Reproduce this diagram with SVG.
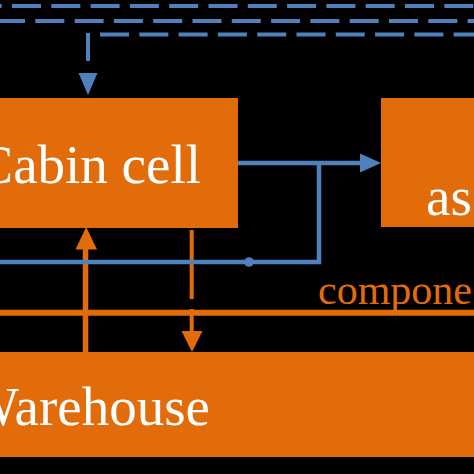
<svg xmlns="http://www.w3.org/2000/svg" width="474" height="474" viewBox="0 0 474 474">
<style>
.box{fill:#E36C0A}
.lbl{font-family:"Liberation Serif","Times New Roman",serif;font-size:55px;fill:#FFFFFF}
.blue{stroke:#4F81BD;fill:none}
.bluef{fill:#4F81BD}
.org{stroke:#E36C0A;fill:none}
.orgf{fill:#E36C0A}
.dash{stroke-dasharray:29 10.3;stroke-width:4}
</style>
<rect x="0" y="0" width="474" height="474" fill="#000000"/>
<g id="cabin-cell">
<rect class="box" x="-10" y="98" width="248" height="130"/>
<text class="lbl" x="201" y="183" text-anchor="end">Cabin cell</text>
</g>
<g id="assembly">
<rect class="box" x="381" y="98" width="103" height="129"/>
<text class="lbl" x="426" y="215">as</text>
</g>
<g id="warehouse">
<rect class="box" x="-10" y="352" width="494" height="105"/>
<text class="lbl" x="210" y="425" text-anchor="end">Warehouse</text>
</g>
<g id="connectors">
<!-- dashed blue lines -->
<line class="blue dash" x1="0" y1="6" x2="474" y2="6" stroke-dashoffset="27.3"/>
<line class="blue dash" x1="0" y1="21" x2="474" y2="21" stroke-dashoffset="4"/>
<line class="blue dash" x1="100" y1="34.5" x2="474" y2="34.5"/>
<line class="blue" stroke-width="4" x1="88" y1="33" x2="88" y2="61"/>
<polygon class="bluef" points="78.5,73 97.5,73 88,95"/>
<!-- orange connectors -->
<line class="org" stroke-width="6" x1="0" y1="312.7" x2="474" y2="312.7"/>
<line class="org" stroke-width="5.5" x1="85.5" y1="352" x2="85.5" y2="247"/>
<polygon class="orgf" points="75.5,249.5 97,249.5 86.2,227"/>
<line class="org" stroke-width="4" x1="191.7" y1="230" x2="191.7" y2="299"/>
<line class="org" stroke-width="4" x1="191.7" y1="309" x2="191.7" y2="334"/>
<polygon class="orgf" points="181.5,331 202.5,331 192,352"/>
<text x="318" y="304" font-family="'Liberation Serif','Times New Roman',serif" font-size="42" fill="#E36C0A">compone</text>
<!-- blue solid connectors -->
<line class="blue" stroke-width="4.5" x1="238" y1="163" x2="362" y2="163"/>
<polygon class="bluef" points="360,153.5 381,163 360,172.5"/>
<polyline class="blue" stroke-width="4.5" points="319,163 319,262 0,262"/>
<circle class="bluef" cx="249" cy="262" r="4.8"/>
</g>
</svg>
